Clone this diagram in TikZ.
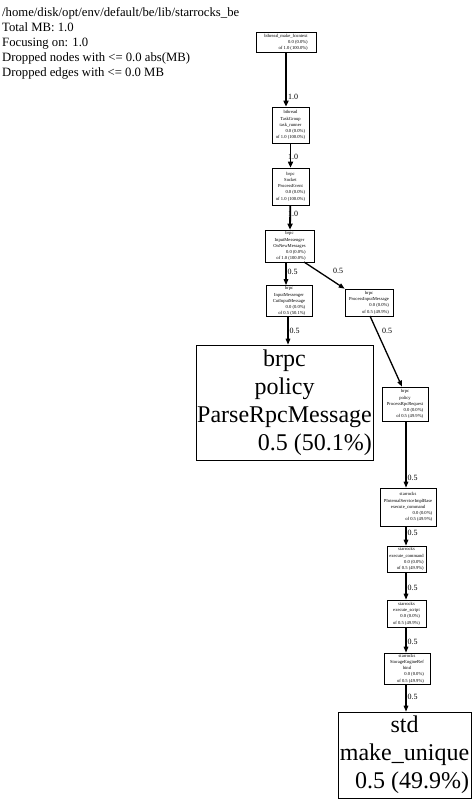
\documentclass[tikz,border=0pt]{standalone}
\usepackage{fontspec}
\setmainfont{Liberation Serif}
\usetikzlibrary{arrows.meta}
\newcommand{\Rt}[1]{\multicolumn{1}{@{}r@{}}{#1}}
\tikzset{
  fn/.style={draw, line width=0.6pt, inner sep=0pt, font=\fontsize{4.6}{6.2}\selectfont},
  big/.style={draw, line width=0.6pt, inner sep=0pt, font=\fontsize{24}{28}\selectfont},
  eA/.style={line width=1.8pt, -{Triangle[length=6pt,width=5pt]}},
  eB/.style={line width=1.3pt, -{Triangle[length=6pt,width=4.5pt]}},
  lbl/.style={font=\fontsize{8}{9}\selectfont, inner sep=0pt, anchor=west},
}
\begin{document}
\begin{tikzpicture}[x=1pt,y=-1pt]
\useasboundingbox (0,0) rectangle (474,802);
\node[anchor=north west, align=left, inner sep=0pt, font=\fontsize{12.7}{15}\selectfont] (hdr) at (2,7)
 {/home/disk/opt/env/default/be/lib/starrocks\_be\\Total MB: 1.0\\Focusing on: 1.0\\Dropped nodes with <= 0.0 abs(MB)\\Dropped edges with <= 0.0 MB};

\node[fn, minimum width=60pt, minimum height=20pt] (n1) at (286,42)
 {\begin{tabular}{@{}c@{}}bthread\_make\_fcontext\\\Rt{0.0 (0.0\%)}\\\Rt{of 1.0 (100.0\%)}\end{tabular}};
\node[fn, minimum width=37pt, minimum height=36pt] (n2) at (290.5,125)
 {\begin{tabular}{@{}c@{}}bthread\\TaskGroup\\task\_runner\\\Rt{0.0 (0.0\%)}\\\Rt{of 1.0 (100.0\%)}\end{tabular}};
\node[fn, minimum width=37pt, minimum height=37pt] (n3) at (290.5,186.5)
 {\begin{tabular}{@{}c@{}}brpc\\Socket\\ProcessEvent\\\Rt{0.0 (0.0\%)}\\\Rt{of 1.0 (100.0\%)}\end{tabular}};
\node[fn, minimum width=49pt, minimum height=32pt] (n4) at (289.5,246)
 {\begin{tabular}{@{}c@{}}brpc\\InputMessenger\\OnNewMessages\\\Rt{0.0 (0.0\%)}\\\Rt{of 1.0 (100.0\%)}\end{tabular}};
\node[fn, minimum width=46pt, minimum height=30pt] (n5) at (289,301)
 {\begin{tabular}{@{}c@{}}brpc\\InputMessenger\\CutInputMessage\\\Rt{0.0 (0.0\%)}\\\Rt{of 0.5 (50.1\%)}\end{tabular}};
\node[fn, minimum width=48pt, minimum height=27pt] (n6) at (369,302.5)
 {\begin{tabular}{@{}c@{}}brpc\\ProcessInputMessage\\\Rt{0.0 (0.0\%)}\\\Rt{of 0.5 (49.9\%)}\end{tabular}};
\node[big, minimum width=177pt, minimum height=115pt] (n7) at (284.5,402.5)
 {\begin{tabular}{@{}c@{}}brpc\\policy\\ParseRpcMessage\\\Rt{0.5 (50.1\%)}\end{tabular}};
\node[fn, minimum width=46pt, minimum height=34pt] (n8) at (405,404)
 {\begin{tabular}{@{}c@{}}brpc\\policy\\ProcessRpcRequest\\\Rt{0.0 (0.0\%)}\\\Rt{of 0.5 (49.9\%)}\end{tabular}};
\node[fn, minimum width=56pt, minimum height=38pt] (n9) at (408,507)
 {\begin{tabular}{@{}c@{}}starrocks\\PInternalServiceImplBase\\execute\_command\\\Rt{0.0 (0.0\%)}\\\Rt{of 0.5 (49.9\%)}\end{tabular}};
\node[fn, minimum width=39pt, minimum height=26pt] (n10) at (406.5,559)
 {\begin{tabular}{@{}c@{}}starrocks\\execute\_command\\\Rt{0.0 (0.0\%)}\\\Rt{of 0.5 (49.9\%)}\end{tabular}};
\node[fn, minimum width=39pt, minimum height=27pt] (n11) at (406.5,613.5)
 {\begin{tabular}{@{}c@{}}starrocks\\execute\_script\\\Rt{0.0 (0.0\%)}\\\Rt{of 0.5 (49.9\%)}\end{tabular}};
\node[fn, minimum width=46pt, minimum height=29pt] (n12) at (407,668.5)
 {\begin{tabular}{@{}c@{}}starrocks\\StorageEngineRef\\bind\\\Rt{0.0 (0.0\%)}\\\Rt{of 0.5 (49.9\%)}\end{tabular}};
\node[big, minimum width=133pt, minimum height=86pt] (n13) at (404.5,755)
 {\begin{tabular}{@{}c@{}}std\\make\_unique\\\Rt{0.5 (49.9\%)}\end{tabular}};

\draw[eA] (n1.south -| 286,0) -- (n2.north -| 286,0);
\draw[eA] (n2) -- (n3);
\draw[eA] (n3) -- (n4.north -| 290,0);
\draw[eB] (n4.south -| 286,0) -- (n5.north -| 286,0);
\draw[eB] (304,262) -- (n6.north west);
\draw[eB] (n5.south -| 288,0) -- (n7.north -| 288,0);
\draw[eB] (370,316) -- (n8.north -| 402,0);
\draw[eB] (n8.south -| 406,0) -- (n9.north -| 406,0);
\draw[eB] (n9.south -| 406,0) -- (n10.north -| 406,0);
\draw[eB] (n10.south -| 406,0) -- (n11.north -| 406,0);
\draw[eB] (n11.south -| 406,0) -- (n12.north -| 406,0);
\draw[eB] (n12.south -| 406,0) -- (n13.north -| 406,0);

\node[lbl] (l1) at (288,97) {1.0};
\node[lbl] (l2) at (288,157) {1.0};
\node[lbl] (l3) at (288,214) {1.0};
\node[lbl] (l4) at (287.5,272) {0.5};
\node[lbl] (l5) at (333,271) {0.5};
\node[lbl] (l6) at (289.5,331) {0.5};
\node[lbl] (l7) at (382,331) {0.5};
\node[lbl] (l8) at (407.5,478) {0.5};
\node[lbl] (l9) at (407.5,533) {0.5};
\node[lbl] (l10) at (407.5,588) {0.5};
\node[lbl] (l11) at (407.5,642) {0.5};
\node[lbl] (l12) at (407.5,697) {0.5};
\end{tikzpicture}
\end{document}
